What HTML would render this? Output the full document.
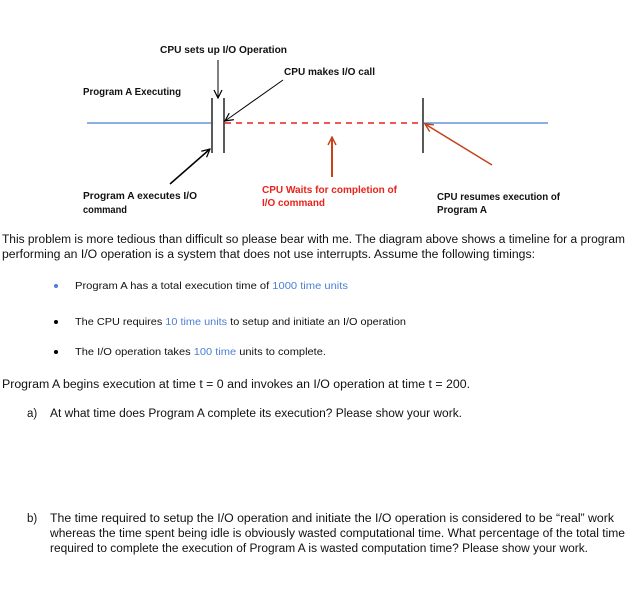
<!DOCTYPE html>
<html><head><meta charset="utf-8"><style>
html,body{margin:0;padding:0;background:#fff;}
svg{display:block;}
text{font-family:"Liberation Sans",sans-serif;}
.d{font-size:10px;font-weight:bold;fill:#111;}
.r{font-size:10px;font-weight:bold;fill:#e8231a;}
.t{font-size:11.5px;fill:#111;}
.s{font-size:10px;fill:#111;}
.b{fill:#4a7fd4;}
</style></head><body>
<svg width="641" height="594" viewBox="0 0 641 594">
<defs>
<marker id="ab" markerWidth="10" markerHeight="10" refX="9" refY="5" orient="auto" markerUnits="userSpaceOnUse"><path d="M1,1 L9,5 L1,9" fill="none" stroke="#000" stroke-width="1.2"/></marker>
<marker id="ao" markerWidth="10" markerHeight="10" refX="9" refY="5" orient="auto" markerUnits="userSpaceOnUse"><path d="M1,1 L9,5 L1,9" fill="none" stroke="#c5421a" stroke-width="1.4"/></marker>
</defs>
<text class="d" x="160" y="53" textLength="127" lengthAdjust="spacingAndGlyphs">CPU sets up I/O Operation</text>
<text class="d" x="284" y="75" textLength="91" lengthAdjust="spacingAndGlyphs">CPU makes I/O call</text>
<text class="d" x="83" y="95" textLength="98" lengthAdjust="spacingAndGlyphs">Program A Executing</text>
<line x1="87" y1="123" x2="211" y2="123" stroke="#4a7fd4" stroke-width="1.2"/>
<line x1="424" y1="123" x2="548" y2="123" stroke="#4a7fd4" stroke-width="1.2"/>
<line x1="225" y1="123" x2="422" y2="123" stroke="#e8231a" stroke-width="1.5" stroke-dasharray="6,5"/>
<line x1="212" y1="98" x2="212" y2="153" stroke="#000" stroke-width="1.3"/>
<line x1="224" y1="98" x2="224" y2="153" stroke="#000" stroke-width="1.3"/>
<line x1="423" y1="98" x2="423" y2="153" stroke="#000" stroke-width="1.3"/>
<line x1="218" y1="60" x2="218" y2="98" stroke="#000" stroke-width="1" marker-end="url(#ab)"/>
<line x1="283" y1="80" x2="225" y2="121" stroke="#000" stroke-width="1" marker-end="url(#ab)"/>
<line x1="170" y1="184" x2="210" y2="149" stroke="#000" stroke-width="1.5" marker-end="url(#ab)"/>
<line x1="332" y1="177" x2="332" y2="137" stroke="#c5421a" stroke-width="2" marker-end="url(#ao)"/>
<line x1="492" y1="165" x2="425" y2="124" stroke="#c5421a" stroke-width="1.5" marker-end="url(#ao)"/>
<text class="d" x="83" y="199" textLength="114" lengthAdjust="spacingAndGlyphs">Program A executes I/O</text>
<text class="d" x="83" y="213" textLength="44" lengthAdjust="spacingAndGlyphs">command</text>
<text class="r" x="262" y="193" textLength="135" lengthAdjust="spacingAndGlyphs">CPU Waits for completion of</text>
<text class="r" x="262" y="206" textLength="63" lengthAdjust="spacingAndGlyphs">I/O command</text>
<text class="d" x="437" y="200" textLength="123" lengthAdjust="spacingAndGlyphs">CPU resumes execution of</text>
<text class="d" x="437" y="213" textLength="50" lengthAdjust="spacingAndGlyphs">Program A</text>

<text class="t" x="2" y="243" textLength="623" lengthAdjust="spacingAndGlyphs">This problem is more tedious than difficult so please bear with me. The diagram above shows a timeline for a program</text>
<text class="t" x="2" y="258" textLength="533" lengthAdjust="spacingAndGlyphs">performing an I/O operation is a system that does not use interrupts. Assume the following timings:</text>
<circle cx="56" cy="286" r="2" fill="#4a7fd4"/>
<text class="s" x="75" y="289" textLength="273" lengthAdjust="spacingAndGlyphs">Program A has a total execution time of <tspan class="b">1000 time units</tspan></text>
<circle cx="56" cy="322" r="2" fill="#000"/>
<text class="s" x="75" y="325" textLength="331" lengthAdjust="spacingAndGlyphs">The CPU requires <tspan class="b">10 time units</tspan> to setup and initiate an I/O operation</text>
<circle cx="56" cy="352" r="2" fill="#000"/>
<text class="s" x="75" y="355" textLength="251" lengthAdjust="spacingAndGlyphs">The I/O operation takes <tspan class="b">100 time</tspan> units to complete.</text>
<text class="t" x="2" y="388" textLength="468" lengthAdjust="spacingAndGlyphs">Program A begins execution at time t = 0 and invokes an I/O operation at time t = 200.</text>
<text class="t" x="27" y="417">a)</text>
<text class="t" x="50" y="417" textLength="412" lengthAdjust="spacingAndGlyphs">At what time does Program A complete its execution? Please show your work.</text>
<text class="t" x="27" y="522">b)</text>
<text class="t" x="50" y="522" textLength="564" lengthAdjust="spacingAndGlyphs">The time required to setup the I/O operation and initiate the I/O operation is considered to be “real” work</text>
<text class="t" x="50" y="537" textLength="575" lengthAdjust="spacingAndGlyphs">whereas the time spent being idle is obviously wasted computational time. What percentage of the total time</text>
<text class="t" x="50" y="552" textLength="538" lengthAdjust="spacingAndGlyphs">required to complete the execution of Program A is wasted computation time? Please show your work.</text>
</svg>
</body></html>
